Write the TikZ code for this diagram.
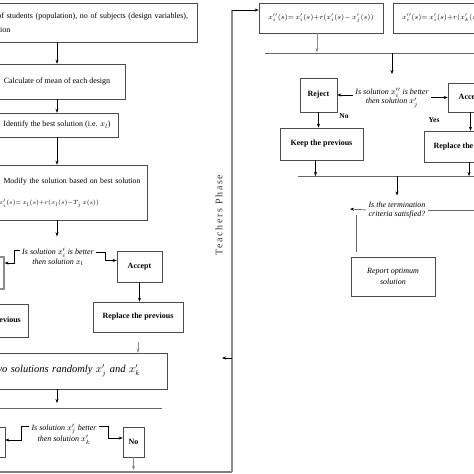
\documentclass[tikz,border=0pt]{standalone}
\usepackage{fontspec}
\setmainfont{Liberation Serif}
\usetikzlibrary{arrows.meta,positioning}
\hyphenpenalty=10000

\begin{document}
\begin{tikzpicture}[
    x=1pt, y=-1pt,
    block/.style={
        rectangle, draw=black!70, semithick,
        font=\fontsize{8}{9.5}\selectfont, align=center, fill=white,
        inner sep=2pt
    },
    bblock/.style={block, font=\fontsize{8}{9.5}\selectfont\bfseries},
    query/.style={font=\fontsize{8}{9.5}\selectfont\itshape, align=center, inner sep=2pt},
    arr/.style={-{Stealth[length=4pt,width=3pt]}, thin},
    garr/.style={arr, draw=black!45},
    link/.style={thin, draw=black!60},
    lbl/.style={font=\fontsize{7.5}{9}\selectfont\bfseries, inner sep=1pt}
]
\useasboundingbox (0,0) rectangle (474,474);
\clip (0,0) rectangle (474,474);
% Left column -- learners setup
\coordinate (spine) at (57,0);
\node[block, minimum width=200, minimum height=39, text width=195pt, inner xsep=5pt, align=left]
  (init) at (95,22.5) {of students (population), no of subjects (design variables),\\[5pt]rion};
\node[block, minimum width=136, minimum height=35] (mean) at (57,81.5) {Calculate of mean of each design};
\node[block, minimum width=122, minimum height=24] (best) at (57,125) {Identify the best solution (i.e. $x_l$)};
\node[block, minimum width=150, minimum height=55, text width=146pt, inner xsep=2pt, font=\fontsize{7.8}{9.5}\selectfont]
  (modify) at (72,192.5) {Modify the solution based on best solution\\[12pt]
  \makebox[\linewidth][l]{\fontsize{6.3}{7}\selectfont $x'_i(s){=}\,x_l(s){+}r(x_l(s){-}T_j\,x(s))$}};
\node[query] (dec1) at (58,257) {Is solution $x'_i$ is better\\then solution $x_l$};
\node[bblock, minimum width=40, minimum height=32, draw=black!45, very thick] (rej1) at (-16,273) {Reject};
\node[bblock, minimum width=76, minimum height=33] (keep1) at (-10,320.5) {Keep the previous};
\node[bblock, minimum width=45, minimum height=31] (acc1) at (139.5,266.5) {Accept};
\node[bblock, minimum width=90, minimum height=30] (rep1) at (138,317) {Replace the previous};
\node[block, minimum width=172, minimum height=36, text width=162pt, inner xsep=10pt, align=left,
  font=\fontsize{10.5}{12}\selectfont\itshape] (rand) at (76,371) {wo solutions randomly $x'_j$ and $x'_k$};
\coordinate (bar1l) at (-5,408);
\coordinate (bar1r) at (162,408);
\node[query] (dec4) at (64,434) {Is solution $x'_j$ better\\then solution $x'_k$};
\node[bblock, minimum width=40, minimum height=30] (yes1) at (-15,442) {Yes};
\node[bblock, minimum width=21, minimum height=30, inner sep=1pt] (no1) at (133.5,442) {No};
% Left column -- connectors
\draw[arr] (init.south -| spine) -- (mean.north -| spine);
\draw[arr] (mean.south -| spine) -- (best.north -| spine);
\draw[arr] (best.south -| spine) -- (modify.north -| spine);
\draw[arr, shorten >=10pt] (modify.south -| spine) -- (dec1.north -| spine);
\draw[arr] ([yshift=-4pt]dec1.north west) -- ++(-6,0) |- ([yshift=10pt]rej1.east);
\draw[arr] ([yshift=-6pt]dec1.north east) -- ++(9,0) |- ([yshift=6pt]acc1.west);
\draw[arr] (acc1.south) -- (acc1.south |- rep1.north);
\draw[garr, shorten <=10pt] (rep1.south) -- (rep1.south |- rand.north);
\draw[arr, shorten >=5pt] (rand.south -| spine) -- (bar1l -| spine);
\draw[link, semithick] (bar1l) -- (bar1r);
\draw[arr] ([yshift=-4pt]dec4.north west) -- ++(-8,0) |- ([yshift=2pt]yes1.east);
\draw[arr] ([yshift=-4pt]dec4.north east) -- ++(10,0) |- ([yshift=4pt]no1.west);
% Return loop
\coordinate (lb) at (-5,472);
\coordinate (lc) at (232,472);
\coordinate (lt) at (232,10);
\coordinate (lm) at (232,358);
\coordinate (lmt) at (222,358);
\draw[garr, shorten >=2pt] (no1.south) -- (no1.south |- lc);
\draw[draw=black!50, line width=2pt] (lb) -- (lc);
\draw[draw=black!45, line width=1.2pt] (lc) -- (lt);
\node[rotate=90, font=\fontsize{10}{12}\selectfont\addfontfeature{LetterSpace=16}, text=black!80]
  (phase) at (219,215) {Teachers Phase};
\draw[arr] (lm) -- (lmt);
% Right column -- learner update
\node[block, minimum width=124, minimum height=30, font=\fontsize{6.8}{8}\selectfont]
  (xnA) at (321,18) {$x''_i(s){=}\ x'_i(s){+}r(x'_i(s){-}\ x'_j(s))$};
\node[block, minimum width=124, minimum height=30, font=\fontsize{6.8}{8}\selectfont]
  (xnB) at (455,18) {$x''_i(s){=}\ x'_i(s){+}r(x'_k(s){-}\ x'_i(s))$};
\draw[arr] (lt) -- (lt -| xnA.west);
\coordinate (bar2l) at (265,53);
\coordinate (bar2r) at (480,53);
\node[query] (dec2) at (392,98) {Is solution $x''_i$ is better\\then solution $x'_j$};
\node[bblock, minimum width=37, minimum height=34] (rej2) at (318.5,95) {Reject};
\node[bblock, minimum width=45, minimum height=29] (acc2) at (470.5,97.5) {Accept};
\node[lbl] (no2) at (344,116) {No};
\node[lbl] (yes2) at (434,120) {Yes};
\node[bblock, minimum width=83, minimum height=32] (keep2) at (321.5,144) {Keep the previous};
\node[bblock, minimum width=90, minimum height=31] (rep2) at (469,146.5) {Replace the previous};
\coordinate (bar3l) at (298,176);
\coordinate (bar3r) at (480,176);
\node[query] (dec3) at (397,210) {Is the termination\\criteria satisfied?};
\coordinate (nxt) at (350,209);
\coordinate (c3) at (356,215);
\node[block, minimum width=84, minimum height=39, font=\fontsize{8}{10.5}\selectfont\itshape]
  (report) at (393,276.5) {Report optimum\\solution};
% Right column -- connectors
\draw[garr, shorten >=1pt] ([xshift=-4pt]xnA.south) -- ([xshift=-4pt]xnA.south |- bar2l);
\draw[link, semithick] (bar2l) -- (bar2r);
\draw[arr, shorten >=12pt] (dec2.north |- bar2l) -- (dec2.north);
\draw[arr] (dec2.west |- rej2) -- (rej2.east);
\draw[arr] (dec2.east |- acc2) -- (acc2.west);
\draw[arr] (rej2.south) -- (rej2.south |- keep2.north);
\draw[arr] (acc2.south) -- (acc2.south |- rep2.north);
\draw[arr] ([xshift=-6pt]keep2.south) -- ([xshift=-6pt]keep2.south |- bar3l);
\draw[arr] (rep2.south) -- (rep2.south |- bar3l);
\draw[link, semithick] (bar3l) -- (bar3r);
\draw[arr, shorten >=4pt] (dec3.north |- bar3l) -- (dec3.north);
\draw[arr] (dec3.west) -- (nxt);
\draw[link] (dec3.east) -- (dec3.east -| bar3r);
\draw[link, shorten >=5pt] (c3) -- (c3 |- report.north);
\end{tikzpicture}
\end{document}
